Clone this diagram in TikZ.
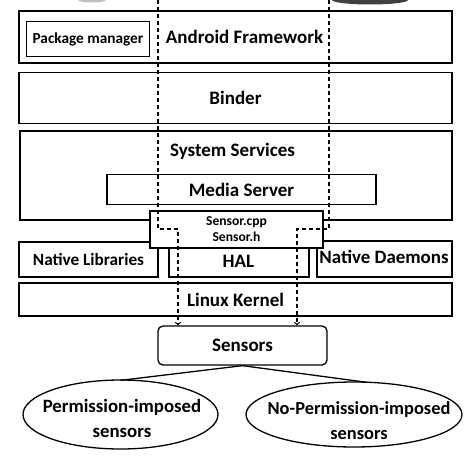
\documentclass[tikz,border=0pt]{standalone}
\usepackage{fontspec}
\setmainfont{Carlito}
\usepackage{tikz}
\usetikzlibrary{arrows,positioning,shapes.geometric,calc}

\begin{document}
\begin{tikzpicture}[x=1pt,y=-1pt,line width=1.3pt,
	every node/.style={font=\bfseries\fontsize{19}{21}\selectfont},
	layer/.style={draw,rectangle,inner sep=0pt},
	cloud/.style={draw,ellipse,inner sep=0pt},
	cloudtext/.style={align=center,inner sep=0pt,font=\bfseries\fontsize{18.8}{25}\selectfont},
	dashline/.style={dashed,line width=1.2pt,dash pattern=on 4pt off 3pt}]
\useasboundingbox (0,0) rectangle (474,474);

% cropped pictures at the top
\fill[black!75] (370,0) ellipse (38 and 4.5);
\fill[black!25] (92,0) ellipse (14 and 2.5);

% layers
\node[layer,minimum width=433,minimum height=52] (af) at (235.5,37) {};
\node[layer,minimum width=123,minimum height=35,font=\bfseries\fontsize{15.3}{17}\selectfont] (pm) at (88,39) {Package manager};
\node (aft) at (244.5,37) {Android Framework};
\node[layer,minimum width=433,minimum height=51] (binder) at (235.5,98) {Binder};
\node[layer,minimum width=432,minimum height=89] (ss) at (236,175.5) {};
\node (sst) at (232.5,151) {System Services};
\node[layer,minimum width=269,minimum height=30] (ms) at (241.5,189.5) {Media Server};
\node[layer,minimum width=139,minimum height=35,font=\bfseries\fontsize{17.2}{19}\selectfont] (nl) at (88.5,259.5) {Native Libraries};
\node[layer,minimum width=140,minimum height=35] (hal) at (239,259.5) {};
\node (halt) at (238.5,261) {HAL};
\node[layer,minimum width=135,minimum height=36] (nd) at (384.5,259) {};
\node[font=\bfseries\fontsize{18.9}{21}\selectfont] (ndt) at (384,257) {Native Daemons};
\node[layer,fill=white,minimum width=173,minimum height=37,align=center,font=\bfseries\fontsize{13.6}{16}\selectfont] (sensor) at (236.5,229.5) {Sensor.cpp\\Sensor.h};
\node[layer,minimum width=433,minimum height=33] (lk) at (235.5,299.5) {Linux Kernel};
\node[layer,rounded corners=5pt,minimum width=169,minimum height=39] (sensors) at (242.5,345.5) {Sensors};

% sensor kinds
\node[cloud,minimum width=195,minimum height=69] (perm) at (120.5,414.5) {};
\node[cloudtext] (permt) at (122,418) {Permission-imposed\\sensors};
\node[cloud,minimum width=216,minimum height=65] (noperm) at (354,414.5) {};
\node[cloudtext,font=\bfseries\fontsize{18.4}{25}\selectfont] (nopermt) at (359,421) {No-Permission-imposed\\sensors};
\draw (sensors.south) -- ($(perm.north)+(0,1)$);
\draw (sensors.south) -- ($(noperm.north)+(13,1)$);

% path of a call
\coordinate (topL) at (158,0);
\coordinate (topR) at (329,0);
\coordinate (bendL) at (178,229);
\coordinate (bendR) at (297,229);
\draw[dashline,->] (topL) |- (bendL) -- (bendL |- sensors.north);
\draw[dashline,->] (topR) |- (bendR) -- (bendR |- sensors.north);

\end{tikzpicture}
\end{document}
